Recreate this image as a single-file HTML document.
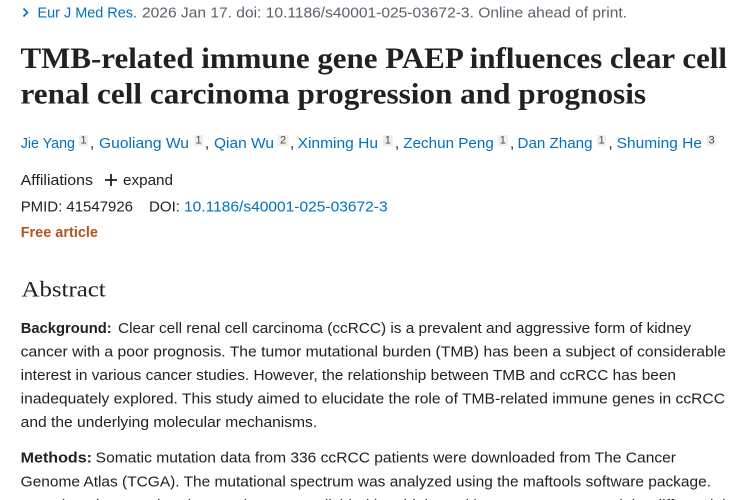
<!DOCTYPE html>
<html>
<head>
<meta charset="utf-8">
<style>
  html,body{margin:0;padding:0;background:#fff;}
  svg{display:block;}
  .s{font-family:"Liberation Sans",Arial,sans-serif;}
  .r{font-family:"Liberation Serif","Times New Roman",serif;}
</style>
</head>
<body>
<svg width="750" height="500" viewBox="0 0 750 500" xmlns="http://www.w3.org/2000/svg">
  <rect width="750" height="500" fill="#ffffff"/>

  <!-- top citation line -->
  <polyline points="23.5,8.5 27.5,12.5 23.5,16.5" fill="none" stroke="#0071bc" stroke-width="1.6"/>
  <text class="s" x="37.5" y="17.5" font-size="14.5" fill="#0071bc" textLength="99.5" lengthAdjust="spacingAndGlyphs">Eur J Med Res.</text>
  <text class="s" x="142" y="17.5" font-size="14.5" fill="#5b616b" textLength="485" lengthAdjust="spacingAndGlyphs">2026 Jan 17. doi: 10.1186/s40001-025-03672-3. Online ahead of print.</text>

  <!-- title -->
  <text class="r" x="20.5" y="68" font-size="30" font-weight="bold" fill="#212121" textLength="706.5" lengthAdjust="spacingAndGlyphs">TMB-related immune gene PAEP influences clear cell</text>
  <text class="r" x="20.5" y="103.5" font-size="30" font-weight="bold" fill="#212121" textLength="625.5" lengthAdjust="spacingAndGlyphs">renal cell carcinoma progression and prognosis</text>

  <!-- authors -->
  <g class="s" font-size="15" fill="#0071bc">
    <text x="20.7" y="148" textLength="54.3" lengthAdjust="spacingAndGlyphs">Jie Yang</text>
    <text x="99" y="148" textLength="90" lengthAdjust="spacingAndGlyphs">Guoliang Wu</text>
    <text x="214" y="148" textLength="60" lengthAdjust="spacingAndGlyphs">Qian Wu</text>
    <text x="297.6" y="148" textLength="80.4" lengthAdjust="spacingAndGlyphs">Xinming Hu</text>
    <text x="403.3" y="148" textLength="90.5" lengthAdjust="spacingAndGlyphs">Zechun Peng</text>
    <text x="517.5" y="148" textLength="75" lengthAdjust="spacingAndGlyphs">Dan Zhang</text>
    <text x="616.7" y="148" textLength="85.3" lengthAdjust="spacingAndGlyphs">Shuming He</text>
  </g>
  <g fill="#eeeeee">
    <rect x="79" y="135" width="9" height="11"/>
    <rect x="194" y="135" width="9" height="11"/>
    <rect x="277.5" y="135" width="11" height="11"/>
    <rect x="382.8" y="135" width="10" height="11"/>
    <rect x="497.6" y="135" width="10.4" height="11"/>
    <rect x="597" y="135" width="9" height="11"/>
    <rect x="707" y="135" width="9" height="11"/>
  </g>
  <g class="s" font-size="11" fill="#4a4a4a" text-anchor="middle">
    <text x="83.5" y="143.5">1</text>
    <text x="198.5" y="143.5">1</text>
    <text x="283" y="143.5">2</text>
    <text x="387.8" y="143.5">1</text>
    <text x="502.8" y="143.5">1</text>
    <text x="601.5" y="143.5">1</text>
    <text x="711.5" y="143.5">3</text>
  </g>
  <g class="s" font-size="15" fill="#212121">
    <text x="90" y="148">,</text>
    <text x="205" y="148">,</text>
    <text x="290" y="148">,</text>
    <text x="395" y="148">,</text>
    <text x="510" y="148">,</text>
    <text x="608.5" y="148">,</text>
  </g>

  <!-- affiliations -->
  <text class="s" x="20.7" y="185" font-size="15" fill="#212121" textLength="72.3" lengthAdjust="spacingAndGlyphs">Affiliations</text>
  <line x1="105" y1="180" x2="117" y2="180" stroke="#212121" stroke-width="1.8"/>
  <line x1="111" y1="174" x2="111" y2="186" stroke="#212121" stroke-width="1.8"/>
  <text class="s" x="123" y="185" font-size="15" fill="#212121" textLength="50" lengthAdjust="spacingAndGlyphs">expand</text>

  <!-- PMID / DOI -->
  <text class="s" x="20.7" y="211.7" font-size="15" fill="#212121" textLength="112.3" lengthAdjust="spacingAndGlyphs">PMID: 41547926</text>
  <text class="s" x="149" y="211.7" font-size="15" fill="#212121" textLength="31" lengthAdjust="spacingAndGlyphs">DOI:</text>
  <text class="s" x="184" y="211.7" font-size="15" fill="#0071bc" textLength="203.6" lengthAdjust="spacingAndGlyphs">10.1186/s40001-025-03672-3</text>

  <!-- Free article -->
  <text class="s" x="20.7" y="237" font-size="15" font-weight="bold" fill="#b1561b" textLength="77.3" lengthAdjust="spacingAndGlyphs">Free article</text>

  <!-- Abstract heading -->
  <text class="r" x="21.5" y="296.7" font-size="22" fill="#212121" textLength="84.2" lengthAdjust="spacingAndGlyphs">Abstract</text>

  <!-- Background paragraph -->
  <g class="s" font-size="15" fill="#212121">
    <text x="20.7" y="333" font-weight="bold" textLength="91" lengthAdjust="spacingAndGlyphs">Background:</text>
    <text x="118" y="333" textLength="573" lengthAdjust="spacingAndGlyphs">Clear cell renal cell carcinoma (ccRCC) is a prevalent and aggressive form of kidney</text>
    <text x="20.7" y="356.5" textLength="705.3" lengthAdjust="spacingAndGlyphs">cancer with a poor prognosis. The tumor mutational burden (TMB) has been a subject of considerable</text>
    <text x="20.7" y="380" textLength="655.3" lengthAdjust="spacingAndGlyphs">interest in various cancer studies. However, the relationship between TMB and ccRCC has been</text>
    <text x="20.7" y="403.5" textLength="704.3" lengthAdjust="spacingAndGlyphs">inadequately explored. This study aimed to elucidate the role of TMB-related immune genes in ccRCC</text>
    <text x="20.7" y="427" textLength="296.5" lengthAdjust="spacingAndGlyphs">and the underlying molecular mechanisms.</text>

    <text x="20.7" y="462.7" font-weight="bold" textLength="71.3" lengthAdjust="spacingAndGlyphs">Methods:</text>
    <text x="95.7" y="462.7" textLength="580.3" lengthAdjust="spacingAndGlyphs">Somatic mutation data from 336 ccRCC patients were downloaded from The Cancer</text>
    <text x="20.7" y="486.5" textLength="690.3" lengthAdjust="spacingAndGlyphs">Genome Atlas (TCGA). The mutational spectrum was analyzed using the maftools software package.</text>
    <text x="20.7" y="510" textLength="705" lengthAdjust="spacingAndGlyphs">Based on the mutation data, patients were divided into high- and low-TMB groups, and the differential</text>
  </g>
</svg>
</body>
</html>
